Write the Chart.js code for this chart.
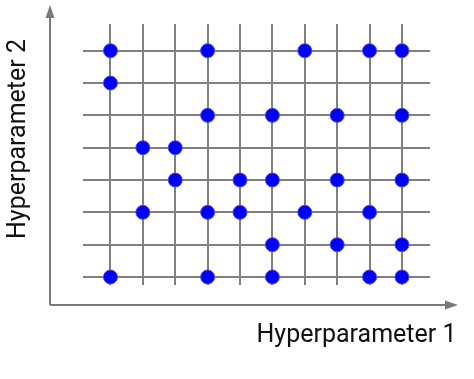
<!DOCTYPE html>
<html>
<head>
<meta charset="utf-8">
<title>Random search over two hyperparameters</title>
<script src="https://cdn.jsdelivr.net/npm/chart.js@4.4.1/dist/chart.umd.min.js"></script>
<style>
  html, body {
    margin: 0;
    padding: 0;
    background: #ffffff;
  }
  .chart-wrap {
    position: relative;
    width: 474px;
    height: 379px;
  }
</style>
</head>
<body>
<div class="chart-wrap">
  <canvas id="searchChart"></canvas>
</div>
<script>
// Grid values tried for each hyperparameter
const hp1Grid = [1, 2, 3, 4, 5, 6, 7, 8, 9, 10];
const hp2Grid = [1, 2, 3, 4, 5, 6, 7, 8];

// Sampled combinations (one entry per dot)
const hp1Values = [1, 4, 7, 9, 10, 1, 4, 6, 8, 10, 2, 3, 3, 5, 6, 8, 10, 2, 4, 5, 7, 9, 6, 8, 10, 1, 4, 6, 9, 10];
const hp2Values = [8, 8, 8, 8, 8, 7, 6, 6, 6, 6, 5, 5, 4, 4, 4, 4, 4, 3, 3, 3, 3, 3, 2, 2, 2, 1, 1, 1, 1, 1];

const axisLabels = ['Hyperparameter 1', 'Hyperparameter 2'];

const GRID_COLOR = '#808080';
const AXIS_COLOR = '#7a7a7a';
const DOT_COLOR = '#0000ff';
const LABEL_FONT = '25px Roboto';

// Draws the two arrowed axes and their titles outside the grid
const arrowAxes = {
  id: 'arrowAxes',
  afterDraw(chart) {
    const { ctx, chartArea } = chart;
    const ox = chartArea.left - 33;
    const oy = chartArea.bottom + 20;
    const topTip = chartArea.top - 19;
    const rightTip = chartArea.right + 28;
    const head = 13;
    const half = 4.5;

    ctx.save();
    ctx.strokeStyle = AXIS_COLOR;
    ctx.fillStyle = AXIS_COLOR;
    ctx.lineWidth = 2;

    ctx.beginPath();
    ctx.moveTo(ox, oy);
    ctx.lineTo(ox, topTip + head);
    ctx.moveTo(ox, oy);
    ctx.lineTo(rightTip - head, oy);
    ctx.stroke();

    ctx.beginPath();
    ctx.moveTo(ox, topTip);
    ctx.lineTo(ox - half, topTip + head);
    ctx.lineTo(ox + half, topTip + head);
    ctx.closePath();
    ctx.fill();

    ctx.beginPath();
    ctx.moveTo(rightTip, oy);
    ctx.lineTo(rightTip - head, oy - half);
    ctx.lineTo(rightTip - head, oy + half);
    ctx.closePath();
    ctx.fill();

    ctx.fillStyle = '#111111';
    ctx.font = LABEL_FONT;
    ctx.textBaseline = 'alphabetic';
    ctx.textAlign = 'right';
    ctx.fillText(axisLabels[0], chartArea.right + 26.5, chartArea.bottom + 57);

    ctx.translate(24.5, (chartArea.top + chartArea.bottom) / 2 - 15.5);
    ctx.rotate(-Math.PI / 2);
    ctx.textAlign = 'center';
    ctx.fillText(axisLabels[1], 0, 0);
    ctx.restore();
  }
};

function gridScale(values, min, max) {
  return {
    type: 'linear',
    min: min,
    max: max,
    afterBuildTicks: (scale) => {
      scale.ticks = values.map(v => ({ value: v }));
    },
    ticks: { display: false },
    border: { display: false },
    grid: {
      color: GRID_COLOR,
      lineWidth: 2,
      drawTicks: false
    }
  };
}

document.addEventListener('DOMContentLoaded', () => {
  const points = hp1Values.map((x, i) => ({ x: x, y: hp2Values[i] }));

  new Chart(document.getElementById('searchChart'), {
    type: 'scatter',
    data: {
      datasets: [{
        label: 'Sampled configurations',
        data: points,
        backgroundColor: DOT_COLOR,
        borderColor: '#4b4bd6',
        borderWidth: 1,
        pointRadius: 7,
        pointHoverRadius: 7
      }]
    },
    options: {
      responsive: true,
      maintainAspectRatio: false,
      animation: false,
      layout: {
        padding: { left: 83, right: 44, top: 24, bottom: 94 }
      },
      scales: {
        x: gridScale(hp1Grid, 0.152, 10.866),
        y: gridScale(hp2Grid, 0.753, 8.826)
      },
      plugins: {
        legend: { display: false },
        tooltip: { enabled: false }
      }
    },
    plugins: [arrowAxes]
  });
});
</script>
</body>
</html>
